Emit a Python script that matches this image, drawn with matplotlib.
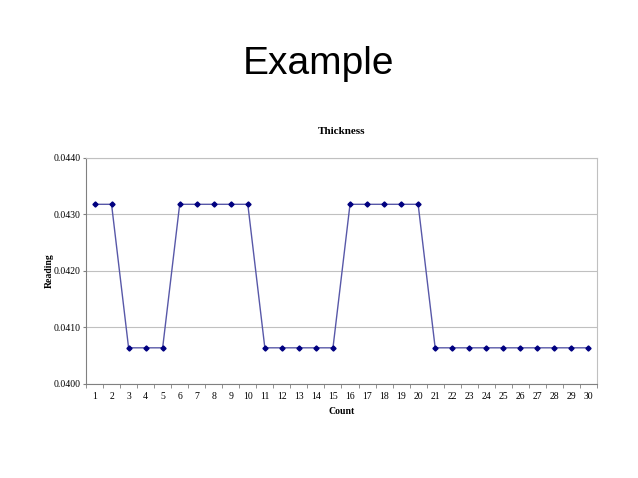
import numpy as np
import matplotlib.pyplot as plt

count = list(range(1, 31))
reading = [0.04318, 0.04318, 0.04064, 0.04064, 0.04064,
           0.04318, 0.04318, 0.04318, 0.04318, 0.04318,
           0.04064, 0.04064, 0.04064, 0.04064, 0.04064,
           0.04318, 0.04318, 0.04318, 0.04318, 0.04318,
           0.04064, 0.04064, 0.04064, 0.04064, 0.04064,
           0.04064, 0.04064, 0.04064, 0.04064, 0.04064]
yticks = [0.0400, 0.0410, 0.0420, 0.0430, 0.0440]

serif = ['Liberation Serif', 'DejaVu Serif']

fig = plt.figure(figsize=(6.38, 4.78), dpi=100)
fig.text(0.5, 0.867, 'Example', ha='center', va='center', fontsize=28,
         family=['Liberation Sans', 'DejaVu Sans'])

ax = fig.add_axes([0.1348, 0.1967, 0.8009, 0.4728])
ax.plot(count, reading, color='#5858a8', lw=1.0, marker='D', ms=2.6,
        mfc='#000080', mec='#000080')
ax.set_xlim(0.5, 30.5)
ax.set_ylim(0.0400, 0.0440)
ax.set_yticks(yticks)
ax.set_yticklabels(['%.4f' % v for v in yticks], family=serif, fontsize=7)
ax.set_xticks(count)
ax.set_xticklabels([str(c) for c in count], family=serif, fontsize=7)
ax.set_xticks(np.arange(0.5, 31, 1), minor=True)
ax.tick_params(axis='x', which='major', length=0, pad=6)
ax.tick_params(axis='x', which='minor', length=3, color='#808080')
ax.tick_params(axis='y', length=2, pad=2, color='#808080')
ax.grid(axis='y', color='#c0c0c0', lw=0.8)
for s in ['top', 'right']:
    ax.spines[s].set_color('#c0c0c0')
for s in ['left', 'bottom']:
    ax.spines[s].set_color('#808080')

ax.set_title('Thickness', family=serif, fontsize=8, fontweight='bold', pad=17)
ax.set_xlabel('Count', family=serif, fontsize=7, fontweight='bold', labelpad=4)
ax.set_ylabel('Reading', family=serif, fontsize=7, fontweight='bold', labelpad=0)

fig.savefig('out.png', dpi=100)
